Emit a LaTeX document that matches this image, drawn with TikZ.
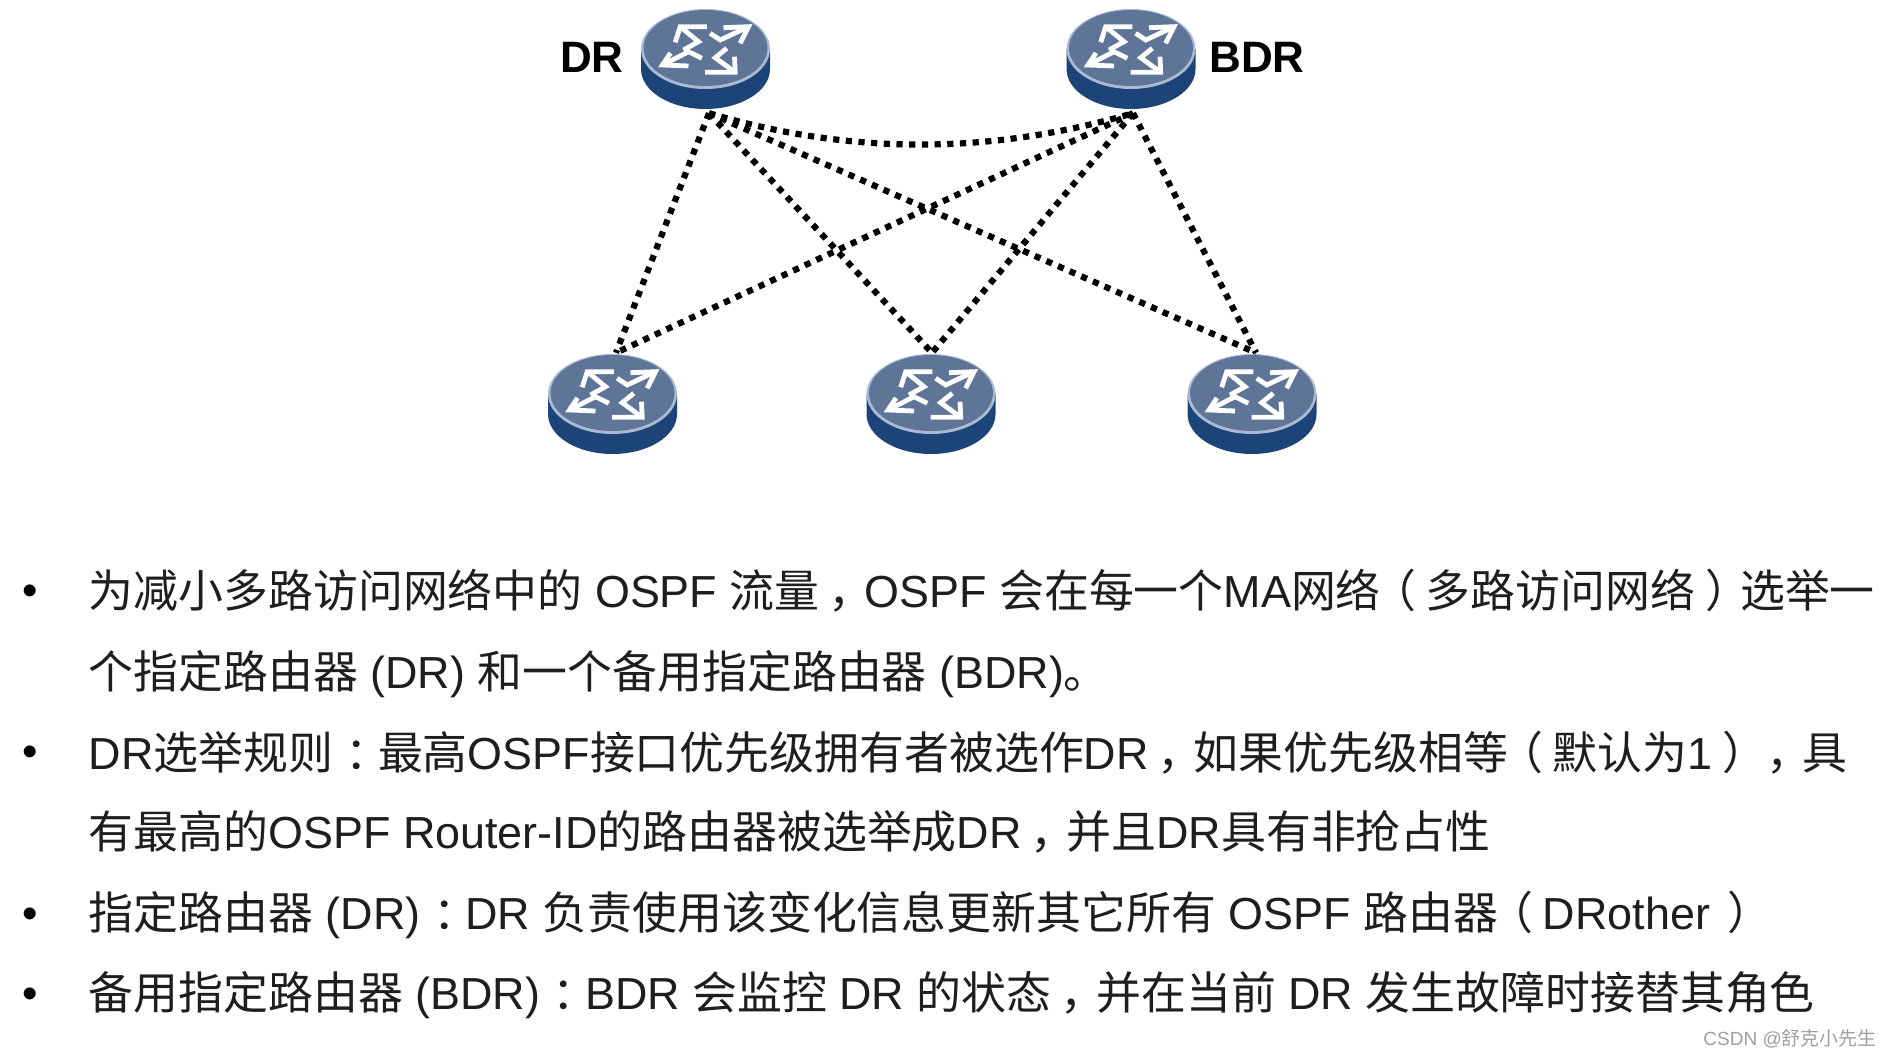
\documentclass[tikz,border=0pt]{standalone}
\usepackage{fontspec}
\setmainfont{Liberation Sans}
\newfontfamily\zhf{Noto Sans CJK SC}
\newcommand{\zh}[1]{{\zhf #1}}
\newcommand{\cm}{\makebox[1em][l]{\hspace{.2em}\zh{，}}}
\newcommand{\cl}{\makebox[1em][l]{\hspace{.28em}\zh{：}}}
\newcommand{\lp}{\makebox[1em][l]{\hspace{-.22em}\zh{（}}}
\newcommand{\rp}{\makebox[1em][r]{\zh{）}\hspace{-.22em}}}
\definecolor{routertop}{HTML}{5F7598}
\definecolor{routerrim}{HTML}{A9BAD2}
\definecolor{routerside}{HTML}{1C4478}
\definecolor{txt}{HTML}{1E1E1E}
\tikzset{
  line/.style={inner sep=0,anchor=base west,font=\fontsize{44.9}{50}\selectfont,text=txt},
  bul/.style={inner sep=0,anchor=center,font=\fontsize{44}{44}\selectfont,text=black},
  tag/.style={inner sep=0,anchor=base,font=\bfseries\fontsize{44}{46}\selectfont,text=black},
  routerbox/.style={inner sep=0,minimum width=129pt,minimum height=100pt,draw=none},
  dots/.style={line width=6.2pt,dash pattern=on 6.2pt off 6.5pt,black},
  glyph/.style={white,line width=4.8pt,line join=miter}
}
\newcommand{\router}[3]{%
  \node[routerbox] (#1) at (#2,#3+9) {};
  \begin{scope}[shift={(#2,#3)}]
    \fill[routerside] (-64.5,0) -- (-64.5,20) arc[x radius=64.5,y radius=40,start angle=180,end angle=0,y=-1pt] -- (64.5,0) -- cycle;
    \fill[routerrim] (0,0) ellipse[x radius=64.5,y radius=40];
    \fill[routertop] (0,-1) ellipse[x radius=62,y radius=38];
    \draw[glyph] (1.3,-22.3) -- (-25.3,-22.3) -- (-30.3,-6.7);
    \draw[glyph] (-25.3,-22.3) -- (-7,-7.3) -- (-22,1);
    \draw[glyph] (18,-21.3) -- (43,-22.3) -- (34.7,-5.7);
    \draw[glyph] (43,-22.3) -- (14.7,-9) -- (4.7,-15.7);
    \draw[glyph] (-35,4) -- (-43,16) -- (-17,17);
    \draw[glyph] (-43,16) -- (-17,2.7) -- (-3.7,9.3);
    \draw[glyph] (-0.3,23.3) -- (29.7,23.3) -- (29,7.7);
    \draw[glyph] (29.7,23.3) -- (9.7,8.7) -- (21.3,-0.7);
  \end{scope}%
}
\begin{document}
\begin{tikzpicture}[x=1pt,y=-1pt]
\useasboundingbox[fill=white] (0,0) rectangle (1890,1057);
\router{dr}{705.5}{49}
\router{bdr}{1131}{49}
\router{ra}{612.5}{394}
\router{rb}{931}{394}
\router{rc}{1252}{394}
\node[tag] (drl) at (592,73) {DR};
\node[tag] (bdrl) at (1257,73) {BDR};
\coordinate (d) at ([xshift=3.5pt,yshift=-5pt]dr.south);
\coordinate (b) at ([xshift=2pt,yshift=-5pt]bdr.south);
\coordinate (ae) at ([xshift=3.5pt]ra.north);
\coordinate (be) at ([xshift=1pt]rb.north);
\coordinate (ce) at ([xshift=4pt]rc.north);
\draw[dots] (d) -- (ae);
\draw[dots] (d) -- (be);
\draw[dots] (d) -- (ce);
\draw[dots] (b) -- (ae);
\draw[dots] (b) -- (be);
\draw[dots] (b) -- (ce);
\draw[dots] (d) .. controls (850,155) and (990,155) .. (b);
\node[bul] (b1) at (30,595.5) {•};
\node[bul] (b2) at (30,756.5) {•};
\node[bul] (b3) at (30,918.5) {•};
\node[bul] (b4) at (30,998.5) {•};
\node[line] (l1) at (88.5,607) {\zh{为减小多路访问网络中的} OSPF \zh{流量}\cm OSPF \zh{会在每一个}MA\zh{网络}\lp\zh{多路访问网络}\rp\zh{选举一}};
\node[line] (l2) at (88.5,688) {\zh{个指定路由器} (DR) \zh{和一个备用指定路由器} (BDR)\zh{。}};
\node[line] (l3) at (88.5,769) {DR\zh{选举规则}\cl\zh{最高}OSPF\zh{接口优先级拥有者被选作}DR\cm\zh{如果优先级相等}\lp\zh{默认为}1\rp\cm\zh{具}};
\node[line] (l4) at (88.5,848) {\zh{有最高的}OSPF Router-ID\zh{的路由器被选举成}DR\cm\zh{并且}DR\zh{具有非抢占性}};
\node[line] (l5) at (88.5,929) {\zh{指定路由器} (DR)\cl DR \zh{负责使用该变化信息更新其它所有} OSPF \zh{路由器}\lp DRother\kern7pt\rp};
\node[line] (l6) at (88.5,1009) {\zh{备用指定路由器} (BDR)\cl BDR \zh{会监控} DR \zh{的状态}\cm\zh{并在当前} DR \zh{发生故障时接替其角色}};
\node[inner sep=0,anchor=base east,font=\fontsize{19}{22}\selectfont,text=gray!75] (wm) at (1877,1045) {CSDN @\zh{舒克小先生}};
\end{tikzpicture}
\end{document}
